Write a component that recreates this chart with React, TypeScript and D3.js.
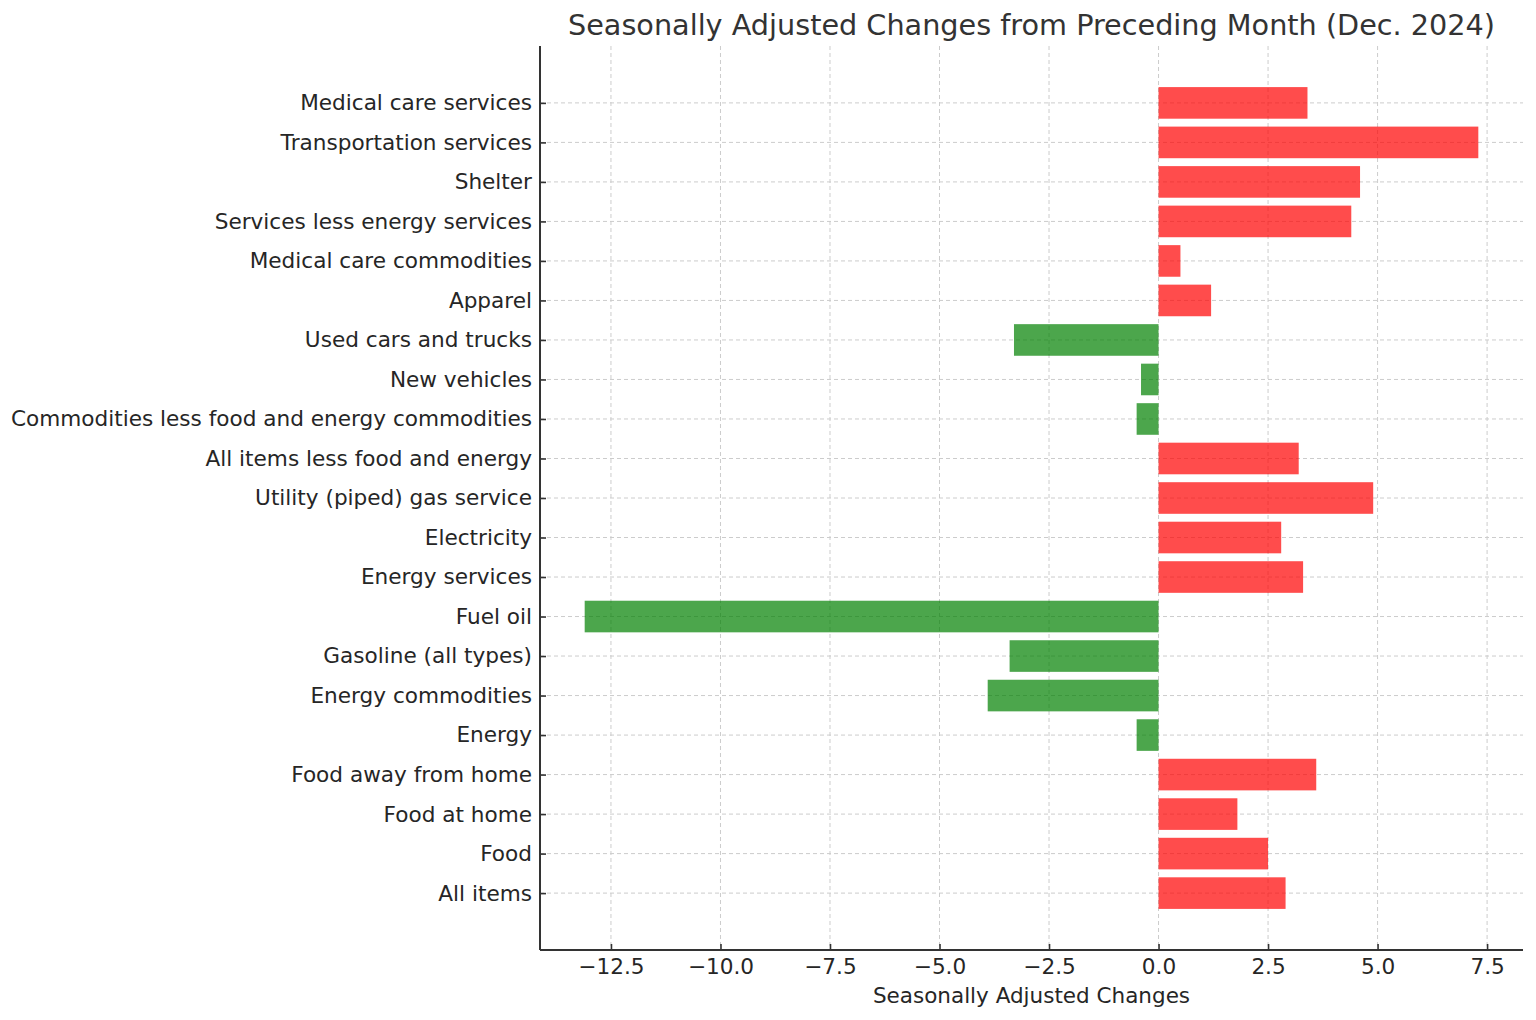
import { useRef, useEffect } from 'react';
import * as d3 from 'd3';

// Categories, bottom to top as plotted
const CATEGORIES = [
    'All items',
    'Food',
    'Food at home',
    'Food away from home',
    'Energy',
    'Energy commodities',
    'Gasoline (all types)',
    'Fuel oil',
    'Energy services',
    'Electricity',
    'Utility (piped) gas service',
    'All items less food and energy',
    'Commodities less food and energy commodities',
    'New vehicles',
    'Used cars and trucks',
    'Apparel',
    'Medical care commodities',
    'Services less energy services',
    'Shelter',
    'Transportation services',
    'Medical care services',
];

const CHANGES = [
    2.9, 2.5, 1.8, 3.6, -0.5, -3.9, -3.4, -13.1, 3.3, 2.8, 4.9,
    3.2, -0.5, -0.4, -3.3, 1.2, 0.5, 4.4, 4.6, 7.3, 3.4,
];

const X_TICKS = [-12.5, -10, -7.5, -5, -2.5, 0, 2.5, 5, 7.5];

export default function App() {
    const ref = useRef<SVGSVGElement>(null);

    useEffect(() => {
        if (!ref.current) return;
        const svg = d3.select(ref.current);
        svg.selectAll('*').remove();

        const width = 1536;
        const height = 1020;
        const margin = { top: 46, right: 13, bottom: 70, left: 540 };
        const innerWidth = width - margin.left - margin.right;
        const innerHeight = height - margin.top - margin.bottom;
        const font = 'DejaVu Sans, sans-serif';
        const textColor = '#262626';

        const g = svg.append('g').attr('transform', `translate(${margin.left},${margin.top})`);

        const x = d3.scaleLinear().domain([-14.12, 8.32]).range([0, innerWidth]);
        const y = d3.scaleLinear().domain([-1.44, 21.44]).range([innerHeight, 0]);
        const barH = y(0) - y(0.8);

        // Grid
        g.append('g')
            .selectAll('line')
            .data(X_TICKS)
            .join('line')
            .attr('x1', d => x(d))
            .attr('x2', d => x(d))
            .attr('y1', 0)
            .attr('y2', innerHeight)
            .attr('stroke', '#cccccc')
            .attr('stroke-width', 1)
            .attr('stroke-dasharray', '4,3');

        g.append('g')
            .selectAll('line')
            .data(CATEGORIES.map((_, i) => i))
            .join('line')
            .attr('x1', 0)
            .attr('x2', innerWidth)
            .attr('y1', d => y(d))
            .attr('y2', d => y(d))
            .attr('stroke', '#cccccc')
            .attr('stroke-width', 1)
            .attr('stroke-dasharray', '4,3');

        // Bars (semi-transparent red / green, grid shows through)
        g.append('g')
            .selectAll('rect')
            .data(CHANGES)
            .join('rect')
            .attr('x', d => x(Math.min(0, d)))
            .attr('y', (_, i) => y(i) - barH / 2)
            .attr('width', d => Math.abs(x(d) - x(0)))
            .attr('height', barH)
            .attr('fill', d => (d >= 0 ? 'red' : 'green'))
            .attr('fill-opacity', 0.7);

        // Axes (ticks point inward)
        const xAxis = g.append('g')
            .attr('transform', `translate(0,${innerHeight})`)
            .call(
                d3.axisBottom(x)
                    .tickValues(X_TICKS)
                    .tickFormat(d => {
                        const s = (d as number).toFixed(1);
                        return s.startsWith('-') ? '\u2212' + s.slice(1) : s;
                    })
                    .tickSize(-6)
                    .tickPadding(9)
            );

        const yAxis = g.append('g')
            .call(
                d3.axisLeft(y)
                    .tickValues(CATEGORIES.map((_, i) => i))
                    .tickFormat(d => CATEGORIES[d as number])
                    .tickSize(-6)
                    .tickPadding(8)
            );

        [xAxis, yAxis].forEach(a => {
            a.select('.domain').attr('stroke', '#333333').attr('stroke-width', 2);
            a.selectAll('.tick line').attr('stroke', '#333333').attr('stroke-width', 1.6);
            a.selectAll('.tick text')
                .attr('fill', textColor)
                .style('font-family', font)
                .style('font-size', '21.6px');
        });
        xAxis.select('.domain').attr('d', `M0,0H${innerWidth}`);
        yAxis.select('.domain').attr('d', `M0,0V${innerHeight}`);

        // Labels
        svg.append('text')
            .attr('x', margin.left + innerWidth / 2)
            .attr('y', 1003)
            .attr('text-anchor', 'middle')
            .attr('fill', textColor)
            .style('font-family', font)
            .style('font-size', '21.5px')
            .text('Seasonally Adjusted Changes');

        svg.append('text')
            .attr('x', margin.left + innerWidth / 2)
            .attr('y', 35)
            .attr('text-anchor', 'middle')
            .attr('fill', '#333333')
            .style('font-family', font)
            .style('font-size', '28.7px')
            .text('Seasonally Adjusted Changes from Preceding Month (Dec. 2024)');
    }, []);

    return (
        <svg
            ref={ref}
            width={1536}
            height={1020}
            style={{ position: 'absolute', left: 0, top: 0, background: '#fff' }}
        />
    );
}
